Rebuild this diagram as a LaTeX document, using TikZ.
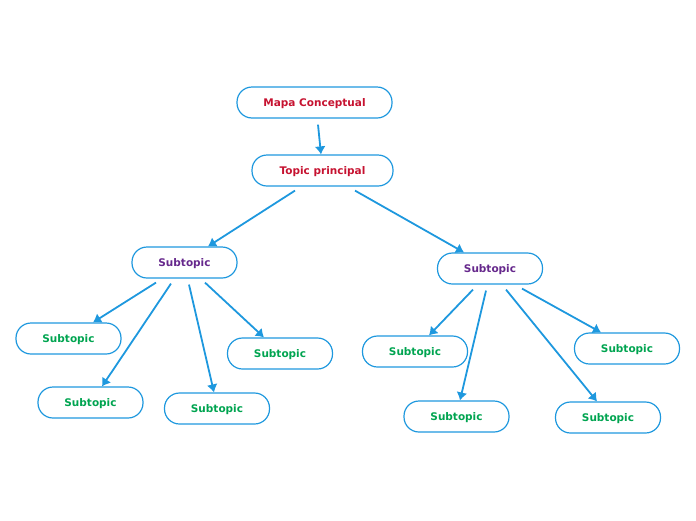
\documentclass[tikz,border=0pt]{standalone}
\usepackage{fontspec}
\setmainfont{DejaVu Sans}
\usepackage{tikz}
\usetikzlibrary{shapes,arrows,arrows.meta,calc}
\definecolor{linkblue}{RGB}{30,152,222}
\definecolor{mainred}{RGB}{198,18,48}
\definecolor{subpurple}{RGB}{102,40,140}
\definecolor{leafgreen}{RGB}{0,164,80}

\begin{document}
\begin{tikzpicture}[x=1pt,y=-1pt,
  topic/.style={draw=linkblue, line width=1.2pt, rounded corners=15pt, minimum height=31pt, inner sep=0pt, text height=8pt, text depth=1pt, font=\fontsize{10.5}{12}\selectfont\bfseries},
  conn/.style={draw=linkblue, line width=1.8pt, -{Latex[length=8pt,width=11pt]}}]
  %coordinates
  \useasboundingbox (0,0) rectangle (696,520);
  % Nodes
  \node[topic, minimum width=155pt, text=mainred](map) at (314.5,102.5) {Mapa Conceptual};
  \node[topic, minimum width=141pt, text=mainred](main) at (322.5,170.5) {Topic principal};
  \node[topic, minimum width=105pt, text=subpurple](subL) at (184.5,262.5) {Subtopic};
  \node[topic, minimum width=105pt, text=subpurple](subR) at (490,268.5) {Subtopic};
  \node[topic, minimum width=105pt, text=leafgreen](l1) at (68.5,338.5) {Subtopic};
  \node[topic, minimum width=105pt, text=leafgreen](l2) at (90.5,402.5) {Subtopic};
  \node[topic, minimum width=105pt, text=leafgreen](l3) at (217,408.5) {Subtopic};
  \node[topic, minimum width=105pt, text=leafgreen](l4) at (280,353.5) {Subtopic};
  \node[topic, minimum width=105pt, text=leafgreen](r1) at (415,351.5) {Subtopic};
  \node[topic, minimum width=105pt, text=leafgreen](r2) at (456.5,416.5) {Subtopic};
  \node[topic, minimum width=105pt, text=leafgreen](r3) at (608,417.5) {Subtopic};
  \node[topic, minimum width=105pt, text=leafgreen](r4) at (627,348.5) {Subtopic};
  % Edges
  \draw[conn] ([xshift=3.5pt,yshift=-6pt]map.south) -- ([xshift=-1.5pt]main.north);
  \draw[conn] ([xshift=-27.5pt,yshift=-4pt]main.south) -- ([xshift=23.5pt]subL.north);
  \draw[conn] ([xshift=32.5pt,yshift=-4pt]main.south) -- ([xshift=-26pt]subR.north);
  \draw[conn] ([xshift=-28.5pt,yshift=-4pt]subL.south) -- ([xshift=24.5pt]l1.north);
  \draw[conn] ([xshift=-13.5pt,yshift=-5pt]subL.south) -- ([xshift=11.5pt]l2.north);
  \draw[conn] ([xshift=4.5pt,yshift=-6pt]subL.south) -- ([xshift=-3pt]l3.north);
  \draw[conn] ([xshift=20.5pt,yshift=-4pt]subL.south) -- ([xshift=-16pt]l4.north);
  \draw[conn] ([xshift=-17pt,yshift=-5pt]subR.south) -- ([xshift=14pt]r1.north);
  \draw[conn] ([xshift=-4pt,yshift=-6pt]subR.south) -- ([xshift=3.5pt]r2.north);
  \draw[conn] ([xshift=16pt,yshift=-5pt]subR.south) -- ([xshift=-11pt]r3.north);
  \draw[conn] ([xshift=32pt,yshift=-4pt]subR.south) -- ([xshift=-26pt]r4.north);
\end{tikzpicture}
\end{document}
